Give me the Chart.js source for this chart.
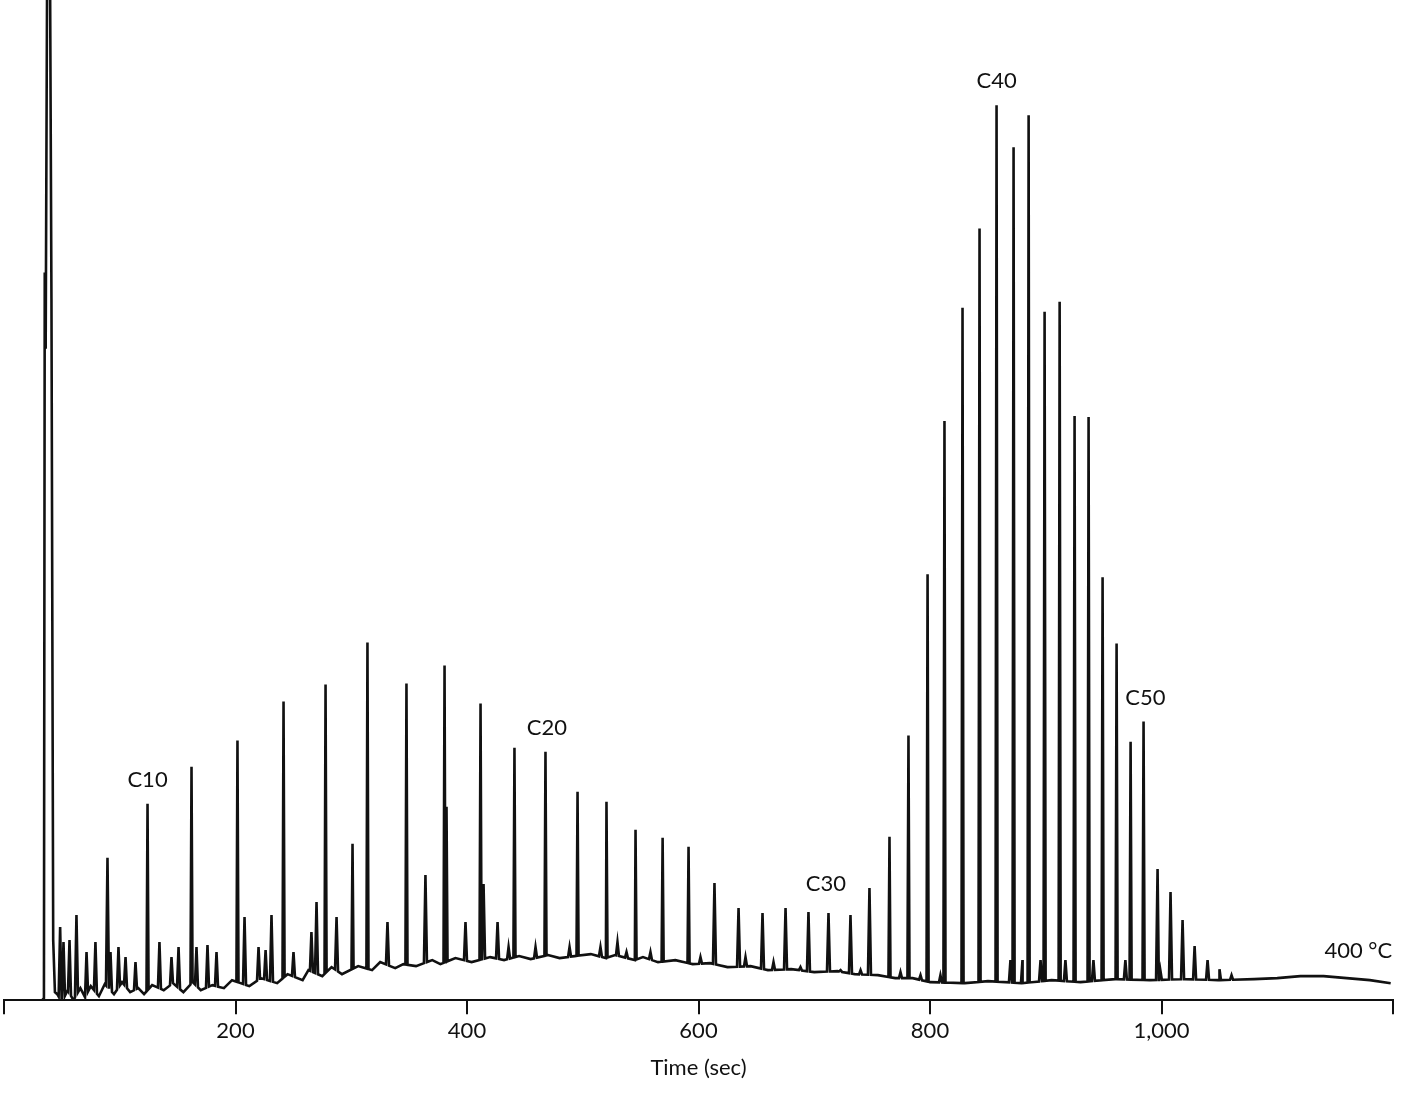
<!DOCTYPE html>
<html><head><meta charset="utf-8">
<script src="https://cdn.jsdelivr.net/npm/chart.js@4.4.0/dist/chart.umd.min.js"></script>
<style>html,body{margin:0;padding:0;background:#fff}#wrap{width:1408px;height:1099px}</style>
</head><body><div id="wrap"><canvas id="c"></canvas></div>
<script>
// baseline (time sec, signal)
const baseT = [0, 32, 46, 50, 55, 60, 66, 70, 75, 82, 87, 95, 102, 109, 116, 121, 128, 138, 146, 155, 163, 170, 180, 190, 197, 212, 222, 236, 245, 258, 263, 275, 283, 292, 306, 318, 325, 338, 345, 356, 370, 377, 390, 404, 420, 432, 445, 455, 470, 480, 493, 507, 520, 528, 545, 552, 565, 580, 595, 610, 625, 645, 660, 680, 700, 720, 735, 755, 770, 785, 800, 830, 850, 880, 905, 930, 960, 990, 1020, 1050, 1080, 1100, 1120, 1140, 1160, 1180, 1198];
const baseY = [0, 0, 6, -2, 10, 0, 12, 3, 14, 4, 16, 6, 18, 8, 12, 6, 15, 10, 17, 8, 18, 10, 15, 12, 20, 14, 22, 17, 26, 20, 30, 24, 33, 26, 34, 30, 38, 32, 36, 34, 40, 36, 42, 38, 43, 40, 44, 41, 45, 42, 44, 46, 42, 45, 40, 43, 38, 40, 36, 37, 33, 34, 30, 31, 28, 29, 26, 25, 22, 22, 18, 17, 19, 17, 20, 18, 21, 20, 21, 20, 21, 22, 24, 24, 22, 20, 17];
// solvent front
const solventT = [33, 34.5, 35.2, 36, 37.5, 39.5, 41, 42.5, 44];
const solventY = [0, 2, 726, 650, 1100, 1100, 700, 60, 8];
// n-alkane peaks
const alkaneT = [89.4, 124, 162, 201.7, 241.5, 277.8, 314, 347.7, 380.6, 411.7, 441, 467.8, 495.5, 520.5, 545.6, 569, 591.4, 613.8, 634.6, 655.3, 675.2, 695, 712.3, 731.3, 747.7, 765, 781.4, 797.9, 812.5, 828.1, 842.8, 857.5, 872.2, 885.2, 899, 912, 924.9, 937, 949.1, 961.2, 973.3, 984.5, 996.6, 1007.8, 1018.2, 1028.6, 1039.8, 1050.1, 1060.5];
const alkaneY = [142, 196, 233, 259, 298, 315, 357, 316, 334, 296, 252, 248, 208, 198, 170, 162, 153, 117, 92, 87, 92, 88, 87, 85, 112, 163, 264, 425, 578, 691, 770, 893, 851, 883, 687, 697, 583, 582, 422, 356, 258, 278, 131, 108, 80, 54, 40, 31, 25];
// minor peaks
const minorT = [48.5, 51.4, 56.6, 62.6, 71.3, 79, 92, 98.9, 105, 113.6, 134.3, 144.7, 150.8, 166.3, 175.8, 183.6, 207.8, 219.9, 226, 231.1, 250.1, 265.6, 270, 287.3, 301.1, 331.3, 364.1, 382.3, 398.7, 414.3, 426.4, 435.9, 459.2, 488.6, 515.3, 530, 537.8, 558.5, 601.7, 640.6, 664.8, 688.1, 722.7, 740, 774.5, 791.8, 809, 869.5, 879.9, 895.5, 917, 941.2, 968.8, 999];
const minorY = [73, 58, 60, 85, 48, 58, 48, 53, 43, 38, 58, 43, 53, 53, 55, 48, 83, 53, 50, 85, 48, 68, 98, 83, 156, 78, 125, 193, 78, 116, 78, 53, 53, 53, 53, 58, 48, 48, 43, 43, 38, 33, 30, 30, 28, 25, 25, 40, 40, 40, 40, 40, 40, 30];
const labels = [['C10', 124, 196], ['C20', 469, 248], ['C30', 710, 92], ['C40', 857.5, 893], ['C50', 986, 278], ['400 °C', 1170, 25]];

function baseAt(t) {
  for (let i = 1; i < baseT.length; i++) {
    if (t <= baseT[i]) {
      const f = (t - baseT[i - 1]) / (baseT[i] - baseT[i - 1]);
      return baseY[i - 1] + f * (baseY[i] - baseY[i - 1]);
    }
  }
  return baseY[baseY.length - 1];
}

const pts = [];
baseT.forEach((t, i) => { if (t < 32 || t > 45) pts.push({x: t, y: baseY[i]}); });
solventT.forEach((t, i) => pts.push({x: t, y: solventY[i]}));
const allT = alkaneT.concat(minorT), allY = alkaneY.concat(minorY);
allT.forEach((t, i) => {
  const w = allY[i] > 150 ? 0.9 : 1.3;
  pts.push({x: t - w, y: baseAt(t - w)});
  pts.push({x: t, y: allY[i]});
  pts.push({x: t + w, y: baseAt(t + w)});
});
pts.sort((a, b) => a.x - b.x);

const labelPlugin = {
  id: 'peakLabels',
  afterDatasetsDraw(chart) {
    const ctx = chart.ctx, xs = chart.scales.x, ys = chart.scales.y;
    ctx.save();
    ctx.font = '22px Lato';
    ctx.fillStyle = '#111';
    ctx.textAlign = 'center';
    ctx.textBaseline = 'bottom';
    labels.forEach(([txt, t, v]) => {
      ctx.fillText(txt, xs.getPixelForValue(t), ys.getPixelForValue(v) - 13);
    });
    ctx.restore();
  }
};

new Chart(document.getElementById('c'), {
  type: 'line',
  data: { datasets: [{ data: pts, borderColor: '#111', borderWidth: 2.6, pointRadius: 0, tension: 0, fill: false }] },
  options: {
    responsive: true, maintainAspectRatio: false, animation: false,
    layout: { padding: { left: 3, right: 15, top: 0, bottom: 18 } },
    plugins: { legend: { display: false }, tooltip: { enabled: false } },
    scales: {
      x: {
        type: 'linear', min: 0, max: 1200,
        border: { color: '#111', width: 2 },
        grid: { drawOnChartArea: false, drawTicks: true, tickLength: 14, color: '#111', lineWidth: 2 },
        ticks: { stepSize: 200, color: '#111', padding: 4, font: { family: 'Lato', size: 22 },
          callback: v => (v === 0 || v === 1200) ? '' : v.toLocaleString('en-US') },
        title: { display: true, text: 'Time (sec)', color: '#111', font: { family: 'Lato', size: 22 }, padding: { top: 6, bottom: 0 } }
      },
      y: { display: false, min: 0, max: 998 }
    }
  },
  plugins: [labelPlugin]
});
</script></body></html>
